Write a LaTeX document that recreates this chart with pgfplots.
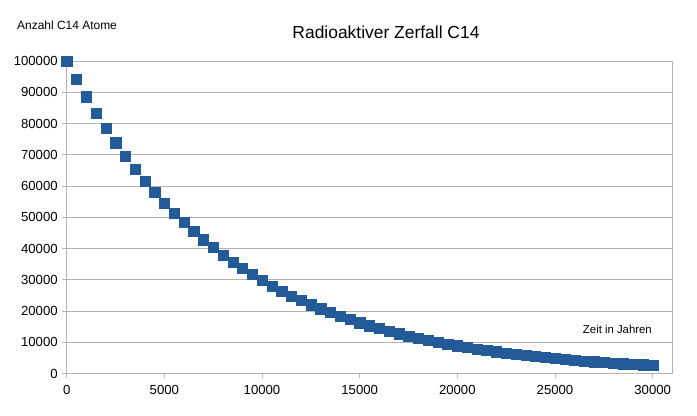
\documentclass[border=0pt]{standalone}
\usepackage{fontspec}
\setmainfont{Liberation Sans}
\usepackage{pgfplots}
\pgfplotsset{compat=1.18}
\definecolor{pointblue}{RGB}{35,90,152}
\definecolor{gridgray}{RGB}{179,179,179}
\begin{document}
\begin{tikzpicture}
\fill[white] (0,0) rectangle (697bp,416bp);
\begin{axis}[
    at={(66.7bp,42.5bp)},
    anchor=south west,
    scale only axis,
    width=605.5bp,
    height=312.5bp,
    xmin=0, xmax=31000,
    ymin=0, ymax=100000,
    scaled ticks=false,
    xtick={0,5000,10000,15000,20000,25000,30000},
    xticklabels={0,5000,10000,15000,20000,25000,30000},
    ytick={0,10000,20000,30000,40000,50000,60000,70000,80000,90000,100000},
    yticklabels={0,10000,20000,30000,40000,50000,60000,70000,80000,90000,100000},
    tick label style={font=\fontsize{13.2}{15}\selectfont, black},
    xticklabel style={yshift=-3.5bp},
    yticklabel style={xshift=-1bp},
    ymajorgrids=true,
    grid style={gridgray, line width=0.8bp},
    axis line style={gridgray, line width=0.8bp},
    tick style={gridgray, line width=0.8bp},
    tick align=outside,
    tick pos=left,
    major tick length=4.5bp,
    clip=false,
]
\addplot[only marks, mark=square*, mark size=5.1bp,
    mark options={fill=pointblue, draw=pointblue, line width=0.2bp}]
coordinates {
    (0,100000) (500,94131) (1000,88606) (1500,83406) (2000,78511)
    (2500,73903) (3000,69566) (3500,65483) (4000,61639) (4500,58021)
    (5000,54616) (5500,51411) (6000,48393) (6500,45553) (7000,42879)
    (7500,40362) (8000,37994) (8500,35764) (9000,33665) (9500,31689)
    (10000,29829) (10500,28078) (11000,26430) (11500,24879) (12000,23419)
    (12500,22044) (13000,20751) (13500,19533) (14000,18386) (14500,17307)
    (15000,16291) (15500,15335) (16000,14435) (16500,13588) (17000,12790)
    (17500,12039) (18000,11333) (18500,10668) (19000,10042) (19500,9453)
    (20000,8898) (20500,8376) (21000,7884) (21500,7421) (22000,6986)
    (22500,6576) (23000,6190) (23500,5827) (24000,5485) (24500,5163)
    (25000,4860) (25500,4575) (26000,4306) (26500,4053) (27000,3815)
    (27500,3591) (28000,3381) (28500,3183) (29000,2996) (29500,2820)
    (30000,2654)
};
\end{axis}
\node[anchor=base, inner sep=0pt, font=\fontsize{17.5}{20}\selectfont]
    at (386bp,377bp) {Radioaktiver Zerfall C14};
\node[anchor=base west, inner sep=0pt, font=\fontsize{12}{14}\selectfont]
    at (17bp,386bp) {Anzahl C14 Atome};
\node[anchor=base east, inner sep=0pt, font=\fontsize{11.4}{13}\selectfont]
    at (652bp,82bp) {Zeit in Jahren};
\end{tikzpicture}
\end{document}
